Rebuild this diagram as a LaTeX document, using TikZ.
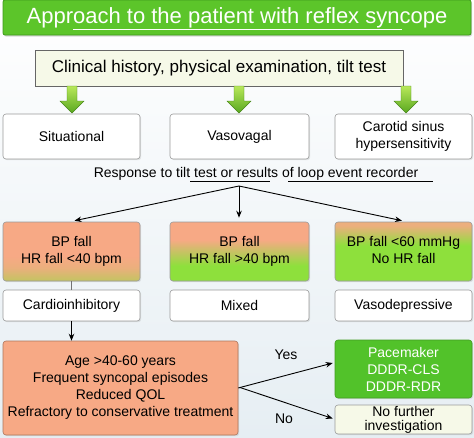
\documentclass[tikz,border=0pt]{standalone}
\usepackage{fontspec}
\setmainfont{Liberation Sans}
\usetikzlibrary{arrows.meta,shadows,calc}
\definecolor{salm}{HTML}{F7A985}
\definecolor{limeg}{HTML}{8EE03C}
\definecolor{titleg}{HTML}{5CC52A}
\definecolor{titleb}{HTML}{3F9A1C}
\definecolor{paceg}{HTML}{52C22A}
\definecolor{cream}{HTML}{F6F9E8}
\definecolor{bgb}{HTML}{E6EEF3}
\definecolor{boxb}{HTML}{9A9A9A}
\definecolor{arrlt}{HTML}{B8E85A}
\definecolor{arrdk}{HTML}{5AA820}
\pgfdeclareverticalshading{shL}{100bp}{color(0bp)=(salm!50!limeg); color(25bp)=(salm!50!limeg); color(36bp)=(salm!88!limeg); color(46bp)=(salm); color(100bp)=(salm)}
\pgfdeclareverticalshading{shM}{100bp}{color(0bp)=(limeg); color(38bp)=(limeg); color(60bp)=(salm); color(100bp)=(salm)}
\pgfdeclareverticalshading{shR}{100bp}{color(0bp)=(limeg); color(55bp)=(limeg); color(72bp)=(salm!90!limeg); color(100bp)=(salm!90!limeg)}
\tikzset{
  txt/.style={font=\fontsize{14}{17}\selectfont, align=center, inner sep=0pt},
  box/.style={txt, draw=boxb, line width=0.6pt, rounded corners=3pt,
    drop shadow={opacity=0.18, shadow xshift=1.2pt, shadow yshift=-1.2pt}},
  wbox/.style={box, fill=white},
  conn/.style={line width=0.9pt, -{Stealth[length=7pt,width=5.5pt]}},
  garrow/.style={top color=arrlt, bottom color=arrdk, draw=arrdk!80!black, line width=0.4pt}
}
\begin{document}
\begin{tikzpicture}[x=1pt,y=-1pt]
\fill[top color=white, bottom color=bgb] (0,0) rectangle (474,437);
\useasboundingbox (0,0) rectangle (474,437);
% title
\node[draw=titleb, fill=titleg, line width=0.8pt, rounded corners=2pt, minimum width=468pt, minimum height=35pt,
  font=\fontsize{22}{26}\selectfont, text=white, inner sep=0pt,
  drop shadow={opacity=0.3, shadow xshift=1pt, shadow yshift=-1.5pt}] (title) at (237,17.5)
  {Approach to the patient with reflex syncope};
\draw[white, line width=1pt] (73,29.5) -- (402,29.5);
% clinical
\node[txt, draw=black!60, fill=cream, line width=0.7pt, minimum width=368pt, minimum height=36pt,
  font=\fontsize{17}{20}\selectfont,
  drop shadow={opacity=0.18, shadow xshift=1.2pt, shadow yshift=-1.2pt}] (clin) at (219,68)
  {Clinical history, physical examination, tilt test};
% green block arrows
\foreach \gx in {72,239,406}{
  \draw[garrow] (\gx-5,86) -- (\gx+5,86) -- (\gx+5,101) -- (\gx+12,101) -- (\gx,113) -- (\gx-12,101) -- (\gx-5,101) -- cycle;
}
% row 2
\node[wbox, minimum width=137pt, minimum height=45pt] (sit) at (71.5,136.5) {Situational};
\node[wbox, minimum width=139pt, minimum height=45pt] (vaso) at (239.5,136.5) {Vasovagal};
\node[wbox, minimum width=137pt, minimum height=45pt] (car) at (403.5,136.5) {Carotid sinus\\hypersensitivity};
% response
\node[txt] (resp) at (256,174) {Response to tilt test or results of loop event recorder};
\draw[black, line width=0.6pt] (190,181.5) -- (270,181.5);
\draw[black, line width=0.6pt] (288,181.5) -- (433,181.5);
\coordinate (split) at (239,186);
% row 3
\node[box, shading=shL, minimum width=137pt, minimum height=59pt] (bpL) at (71.5,251.5) {\raisebox{6pt}{\begin{tabular}{@{}c@{}}BP fall\\HR fall <40 bpm\end{tabular}}};
\node[box, shading=shM, minimum width=139pt, minimum height=59pt] (bpM) at (239.5,251.5) {BP fall\\HR fall >40 bpm};
\node[box, shading=shR, minimum width=137pt, minimum height=59pt] (bpR) at (403.5,251.5) {\raisebox{-3pt}{\begin{tabular}{@{}c@{}}BP fall <60 mmHg\\No HR fall\end{tabular}}};
\draw[conn] (split) -- ($(bpL.north)+(3,-1)$);
\draw[conn] (split) -- ($(bpM.north)+(-0.5,-4)$);
\draw[conn] (split) -- ($(bpR.north)+(-1.5,-1)$);
% row 4
\node[wbox, minimum width=137pt, minimum height=31pt] (cardio) at (71.5,305.5) {Cardioinhibitory};
\node[wbox, minimum width=139pt, minimum height=31pt] (mixed) at (239.5,305.5) {Mixed};
\node[wbox, minimum width=137pt, minimum height=31pt] (vasod) at (403.5,305.5) {Vasodepressive};
\draw[black!55, line width=0.6pt] (bpL.south) -- (cardio.north);
% big box
\node[box, fill=salm, draw=salm!70!black, minimum width=235pt, minimum height=94pt] (big) at (120.5,388)
  {\raisebox{6pt}{\begin{tabular}{@{}c@{}}Age >40-60 years\\Frequent syncopal episodes\\Reduced QOL\\Refractory to conservative treatment\end{tabular}}};
\draw[conn] (cardio.south) -- (cardio.south |- big.north);
% outcomes
\node[box, fill=paceg, draw=paceg!80!black, text=white, minimum width=137pt, minimum height=58pt] (pace) at (403.5,369)
  {Pacemaker\\DDDR-CLS\\DDDR-RDR};
\node[box, fill=cream, minimum width=137pt, minimum height=29pt, font=\fontsize{14}{14}\selectfont] (nof) at (403.5,419.5)
  {No further\\investigation};
\coordinate (fork) at (240,387.5);
\draw[conn] (big.east) -- (fork) -- ($(pace.west)+(-2,-6)$);
\draw[conn] (fork) -- ($(nof.west)+(-2,-1)$);
\node[txt] (yes) at (286,355) {Yes};
\node[txt] (no) at (284,419) {No};
\end{tikzpicture}
\end{document}
